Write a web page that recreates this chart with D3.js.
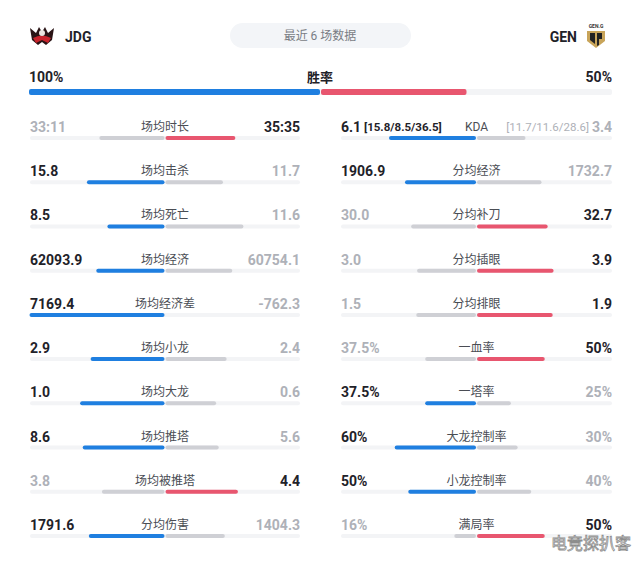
<!DOCTYPE html>
<html>
<head>
<meta charset="utf-8">
<script src="https://cdn.jsdelivr.net/npm/d3@7"></script>
<style>
  body { margin: 0; background: #fff; }
  svg { display: block; font-family: Roboto, "Noto Sans CJK SC", sans-serif; }
</style>
</head>
<body>
<div id="chart"></div>
<script>
// teams and win rate
const teams = ["JDG", "GEN"];
const winRate = [100, 50];

// left column
const leftLabels = ["场均时长", "场均击杀", "场均死亡", "场均经济", "场均经济差", "场均小龙", "场均大龙", "场均推塔", "场均被推塔", "分均伤害"];
const leftJDG = ["33:11", "15.8", "8.5", "62093.9", "7169.4", "2.9", "1.0", "8.6", "3.8", "1791.6"];
const leftGEN = ["35:35", "11.7", "11.6", "60754.1", "-762.3", "2.4", "0.6", "5.6", "4.4", "1404.3"];
const leftWinner = ["R", "L", "L", "L", "L", "L", "L", "L", "R", "L"];

// right column
const rightLabels = ["KDA", "分均经济", "分均补刀", "分均插眼", "分均排眼", "一血率", "一塔率", "大龙控制率", "小龙控制率", "满局率"];
const rightJDG = ["6.1", "1906.9", "30.0", "3.0", "1.5", "37.5%", "37.5%", "60%", "50%", "16%"];
const rightGEN = ["3.4", "1732.7", "32.7", "3.9", "1.9", "50%", "25%", "30%", "40%", "50%"];
const rightWinner = ["L", "L", "R", "R", "R", "R", "L", "L", "L", "R"];
const kdaJDG = "[15.8/8.5/36.5]";
const kdaGEN = "[11.7/11.6/28.6]";

const width = 640, height = 562;
const BLUE = "#1f7fe0", RED = "#e8566f", GREY = "#cfd0d5", TRACK = "#f3f4f6";
const DARK = "#1f2229", LIGHT = "#aeb1b8";

const svg = d3.select("#chart").append("svg")
    .attr("width", width)
    .attr("height", height);

// parse numbers; "mm:ss" to seconds
function num(s) {
    if (s.includes(":")) {
        const p = s.split(":");
        return +p[0] * 60 + +p[1];
    }
    return parseFloat(s);
}
function fractions(a, b) {
    if (a.includes("%")) return [num(a) / 100, num(b) / 100];
    const va = Math.max(0, num(a)), vb = Math.max(0, num(b));
    const s = va + vb;
    return [va / s, vb / s];
}

// ---- header ----
// JDG logo (rough)
const jl = svg.append("g").attr("transform", "translate(42,36)");
jl.append("path").attr("d", "M-12,-8 L-6,-3 L-3,-9 L0,-4 L3,-9 L6,-3 L12,-8 L10,4 L4,9 L0,6 L-4,9 L-10,4 Z")
    .attr("fill", "#2a1416");
jl.append("path").attr("d", "M-9,2 Q0,-3 9,2 L6,7 L0,4 L-6,7 Z").attr("fill", "#c8232c");
jl.append("circle").attr("cx", 0).attr("cy", -3).attr("r", 3).attr("fill", "#e9e4e0");

svg.append("text").attr("x", 65).attr("y", 37)
    .attr("dominant-baseline", "central")
    .attr("font-size", 14).attr("font-weight", 700).attr("fill", DARK)
    .text(teams[0]);
svg.append("text").attr("x", 577).attr("y", 37)
    .attr("dominant-baseline", "central").attr("text-anchor", "end")
    .attr("font-size", 14).attr("font-weight", 700).attr("fill", DARK)
    .text(teams[1]);

// GEN logo (rough)
const gl = svg.append("g").attr("transform", "translate(596,36)");
gl.append("text").attr("x", 0).attr("y", -8).attr("text-anchor", "middle")
    .attr("font-size", 5).attr("font-weight", 700).attr("fill", "#333").text("GEN.G");
gl.append("path").attr("d", "M-9,-5 H9 V5 L0,12 L-9,5 Z").attr("fill", "#c8a45a");
gl.append("path").attr("d", "M-6,-3 H-1 V8 L-6,4 Z M1,-3 H6 V3 H3 V9 L1,10 Z").attr("fill", "#222");

// pill
svg.append("rect").attr("x", 230).attr("y", 23).attr("width", 181).attr("height", 25)
    .attr("rx", 12.5).attr("fill", "#f3f5f8");
svg.append("text").attr("x", 320).attr("y", 35.5)
    .attr("text-anchor", "middle").attr("dominant-baseline", "central")
    .attr("font-size", 12).attr("fill", "#7a7d84")
    .text("最近 6 场数据");

// ---- win rate ----
svg.append("text").attr("x", 29).attr("y", 77).attr("dominant-baseline", "central")
    .attr("font-size", 14).attr("font-weight", 700).attr("fill", DARK).text(winRate[0] + "%");
svg.append("text").attr("x", 612).attr("y", 77).attr("dominant-baseline", "central")
    .attr("text-anchor", "end")
    .attr("font-size", 14).attr("font-weight", 700).attr("fill", DARK).text(winRate[1] + "%");
svg.append("text").attr("x", 320).attr("y", 77).attr("dominant-baseline", "central")
    .attr("text-anchor", "middle")
    .attr("font-size", 13).attr("font-weight", 700).attr("fill", DARK).text("胜率");

const wx = d3.scaleLinear().domain([0, 100]).range([0, 291]);
svg.append("rect").attr("x", 29).attr("y", 89).attr("width", 583).attr("height", 6)
    .attr("rx", 2).attr("fill", TRACK);
svg.append("rect").attr("x", 320 - wx(winRate[0])).attr("y", 89)
    .attr("width", wx(winRate[0])).attr("height", 6).attr("rx", 2).attr("fill", BLUE);
svg.append("rect").attr("x", 321).attr("y", 89)
    .attr("width", wx(winRate[1])).attr("height", 6).attr("rx", 2).attr("fill", RED);

// ---- stat columns ----
const rowY = d3.scalePoint().domain(d3.range(10)).range([127, 525]);

function column(labels, aVals, bVals, winners, x0, x1, isRight) {
    const cx = (x0 + x1) / 2;
    const bx = d3.scaleLinear().domain([0, 1]).range([0, cx - x0]);
    const g = svg.append("g");
    labels.forEach((lab, i) => {
        const y = rowY(i);
        const by = y + 11;
        const lw = winners[i] === "L";
        const [fa, fb] = fractions(aVals[i], bVals[i]);

        g.append("rect").attr("x", x0).attr("y", by - 2).attr("width", x1 - x0).attr("height", 4)
            .attr("rx", 2).attr("fill", TRACK);
        g.append("rect").attr("x", cx - bx(fa) - 0.5).attr("y", by - 2)
            .attr("width", bx(fa)).attr("height", 4).attr("rx", 2)
            .attr("fill", lw ? BLUE : GREY);
        g.append("rect").attr("x", cx + 0.5).attr("y", by - 2)
            .attr("width", bx(fb)).attr("height", 4).attr("rx", 2)
            .attr("fill", lw ? GREY : RED);

        g.append("text").attr("x", cx).attr("y", y).attr("text-anchor", "middle")
            .attr("dominant-baseline", "central")
            .attr("font-size", 12).attr("fill", "#4a4d54").text(lab);

        const lt = g.append("text").attr("x", x0).attr("y", y)
            .attr("dominant-baseline", "central")
            .attr("font-size", 14).attr("font-weight", 700)
            .attr("fill", lw ? DARK : LIGHT);
        lt.append("tspan").text(aVals[i]);
        const rt = g.append("text").attr("x", x1).attr("y", y)
            .attr("dominant-baseline", "central").attr("text-anchor", "end")
            .attr("font-size", 14).attr("font-weight", 700)
            .attr("fill", lw ? LIGHT : DARK);
        if (isRight && i === 0) {
            lt.append("tspan").attr("font-size", 11.5).text(" " + kdaJDG);
            rt.append("tspan").attr("font-size", 11.5).attr("font-weight", 400).text(kdaGEN + " ");
        }
        rt.append("tspan").text(bVals[i]);
    });
}

column(leftLabels, leftJDG, leftGEN, leftWinner, 30, 300, false);
column(rightLabels, rightJDG, rightGEN, rightWinner, 341, 612, true);

// watermark
svg.append("text").attr("x", 631).attr("y", 543)
    .attr("text-anchor", "end").attr("dominant-baseline", "central")
    .attr("font-size", 16).attr("fill", "#ffffff")
    .attr("stroke", "#8d8d8d").attr("stroke-width", 0.8)
    .text("电竞探扒客");
</script>
</body>
</html>
